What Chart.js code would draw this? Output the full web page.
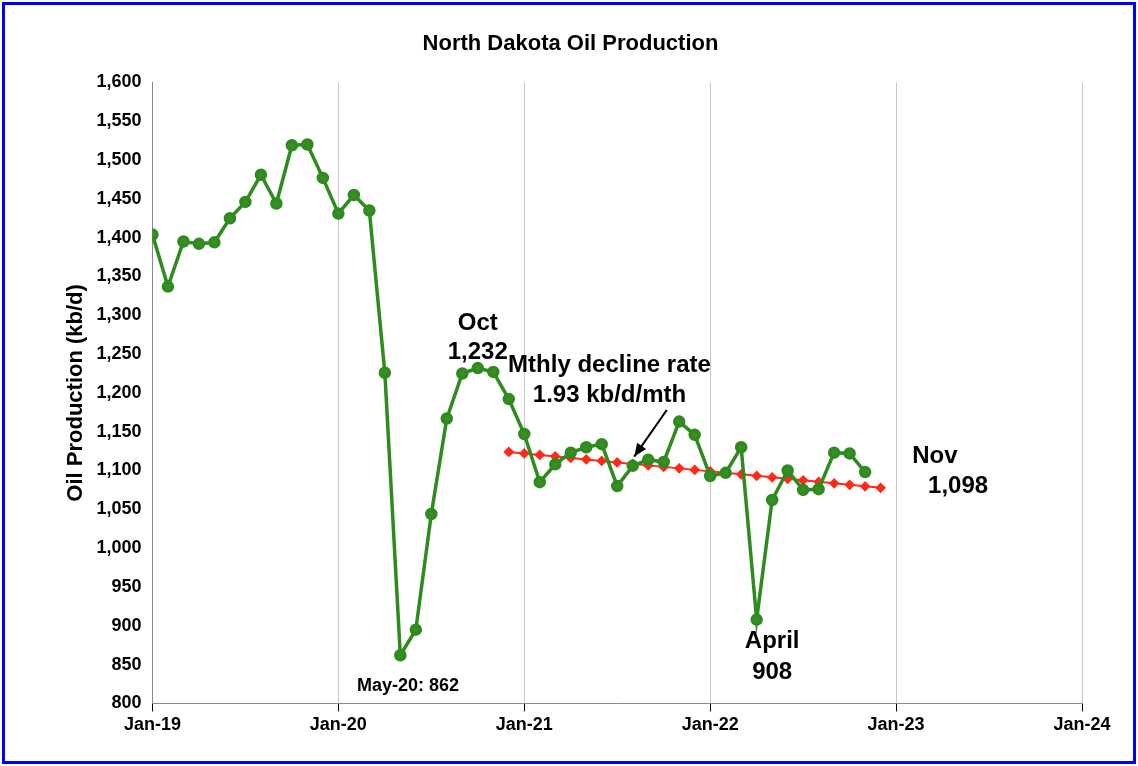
<!DOCTYPE html>
<html><head>
<script src="https://cdn.jsdelivr.net/npm/chart.js@4"></script>
<style>
body{margin:0;background:#fff}
#wrap{position:absolute;left:2px;top:2px;width:1128px;height:756px;border:3px solid #0000ff;background:#fff}
</style></head>
<body>
<div id="wrap"><canvas id="c" width="1128" height="756"></canvas></div>
<script>
var tickLabels = ["Jan-19","Jan-20","Jan-21","Jan-22","Jan-23","Jan-24"];
// month index from Jan-19 = 0
var production = [1404,1337,1395,1392,1394,1425,1446,1481,1444,1519,1520,1477,
  1431,1455,1435,1226,862,895,1044,1167,1225,1232,1227,1192,
  1147,1085,1108,1123,1130,1134,1080,1106,1114,1111,1163,1146,
  1093,1097,1130,908,1062,1100,1075,1076,1123,1122,1098];
var trendStart = 23, trendFirst = 1124, trendRate = 1.93, trendMonths = 25;

var prodPts = production.map(function(v,i){return {x:i,y:v};});
var trendPts = [];
for (var i = 0; i < trendMonths; i++) trendPts.push({x:trendStart+i, y:trendFirst-trendRate*i});

var notes = [
  {x:21, y:1290, t:"Oct", size:24},
  {x:21, y:1252, t:"1,232", size:24},
  {x:29.5, y:1236, t:"Mthly decline rate", size:24},
  {x:29.5, y:1197, t:"1.93 kb/d/mth", size:24},
  {x:50.5, y:1118, t:"Nov", size:24},
  {x:52, y:1080, t:"1,098", size:24},
  {x:16.5, y:822, t:"May-20: 862", size:18},
  {x:40, y:880, t:"April", size:24},
  {x:40, y:840, t:"908", size:24}
];

var notePlugin = {
  id:"notes",
  afterDatasetsDraw:function(ch){
    var c = ch.ctx, xs = ch.scales.x, ys = ch.scales.y;
    c.save();
    c.fillStyle = "#000"; c.textAlign = "center"; c.textBaseline = "middle";
    notes.forEach(function(n){
      c.font = "bold "+n.size+"px Arial, 'Liberation Sans'";
      c.fillText(n.t, xs.getPixelForValue(n.x), ys.getPixelForValue(n.y));
    });
    // arrow
    var x1 = xs.getPixelForValue(33.2), y1 = ys.getPixelForValue(1178);
    var x2 = xs.getPixelForValue(31.1), y2 = ys.getPixelForValue(1118);
    c.strokeStyle = "#000"; c.lineWidth = 2;
    c.beginPath(); c.moveTo(x1,y1); c.lineTo(x2,y2); c.stroke();
    var a = Math.atan2(y2-y1,x2-x1);
    c.beginPath(); c.moveTo(x2,y2);
    c.lineTo(x2-14*Math.cos(a-0.4), y2-14*Math.sin(a-0.4));
    c.lineTo(x2-14*Math.cos(a+0.4), y2-14*Math.sin(a+0.4));
    c.closePath(); c.fillStyle="#000"; c.fill();
    c.restore();
  }
};

new Chart(document.getElementById("c"), {
  type:"line",
  data:{datasets:[
    {data:prodPts, borderColor:"#2e8b1e", backgroundColor:"#2e8b1e", borderWidth:3.5, pointRadius:4.5, pointBackgroundColor:"#3d8c26", tension:0},
    {data:trendPts, borderColor:"#ff2a1a", backgroundColor:"#ff2a1a", borderWidth:2, pointStyle:"rectRot", pointRadius:4, tension:0}
  ]},
  options:{
    responsive:false, animation:false,
    layout:{padding:{left:54,right:51,top:6,bottom:22}},
    plugins:{legend:{display:false}, tooltip:{enabled:false},
      title:{display:true, text:"North Dakota Oil Production", color:"#000", font:{size:22,weight:"bold",family:"Arial, 'Liberation Sans'"}, padding:{top:20,bottom:25}}},
    scales:{
      x:{type:"linear", min:0, max:60,
        afterBuildTicks:function(ax){ax.ticks=[0,12,24,36,48,60].map(function(v){return {value:v};});},
        ticks:{color:"#000", font:{size:18,weight:"bold",family:"Arial, 'Liberation Sans'"}, maxRotation:0,
          callback:function(v){return tickLabels[v/12];}},
        grid:{color:"#c8c8c8", drawTicks:true, tickColor:"#000"}, border:{color:"#888"}},
      y:{min:800, max:1600,
        ticks:{stepSize:50, color:"#000", font:{size:18,weight:"bold",family:"Arial, 'Liberation Sans'"},
          callback:function(v){return v.toLocaleString("en-US");}},
        grid:{display:false}, border:{color:"#888"},
        title:{display:true, text:"Oil Production (kb/d)", color:"#000", font:{size:22,weight:"bold",family:"Arial, 'Liberation Sans'"}}}
    }
  },
  plugins:[notePlugin]
});
</script>
</body></html>
